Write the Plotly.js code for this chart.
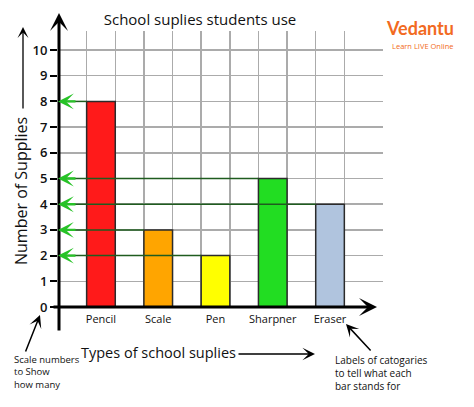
<!DOCTYPE html>
<html>
<head>
<meta charset="utf-8">
<script src="https://cdn.plot.ly/plotly-3.0.1.min.js"></script>
<style>
  html, body { margin: 0; padding: 0; background: #fff; }
  #chart { width: 474px; height: 407px; }
</style>
</head>
<body>
<div id="chart"></div>
<script>
// data
const categories = ['Pencil', 'Scale', 'Pen', 'Sharpner', 'Eraser'];
const counts = [8, 3, 2, 5, 4];
const barColors = ['#ff1a1a', '#ffa500', '#ffff00', '#22dd22', '#b0c4de'];
const yTickVals = [0, 1, 2, 3, 4, 5, 6, 7, 8, 9, 10];

const FONT = 'Open Sans, Noto Sans, sans-serif';

// plot box in pixels
const L = 58, R = 91, T = 31, B = 100;
const W = 474 - L - R, H = 407 - T - B;
const px = x => (x - L) / W;          // pixel -> paper x
const py = y => (407 - B - y) / H;    // pixel -> paper y

// each bar sits in every other grid cell
const barX = categories.map((c, i) => 1.5 + 2 * i);
const gridX = [];
for (let i = 1; i <= categories.length * 2; i++) gridX.push(i);

// dark green guide lines from the y axis to each bar top
const guides = counts.map((v, i) => ({
    type: 'scatter',
    mode: 'lines',
    x: [0, barX[i] - 0.5],
    y: [v, v],
    line: { color: '#1f5c1f', width: 1.5 },
    hoverinfo: 'skip',
    showlegend: false
}));

const bars = {
    type: 'bar',
    x: barX,
    y: counts,
    width: 1,
    marker: { color: barColors, line: { color: '#2b2b2b', width: 1.5 } },
    showlegend: false
};

// green arrows pointing at the scale value of each bar
const greenArrows = counts.map(v => ({
    x: 0, xref: 'x', y: v, yref: 'y',
    ax: 19, ay: 0, axref: 'pixel', ayref: 'pixel',
    text: '', showarrow: true,
    arrowhead: 3, arrowsize: 1.1, arrowwidth: 2.4, arrowcolor: '#27c227'
}));

function arrow(hx, hy, dx, dy, width, size, head) {
    return {
        x: px(hx), xref: 'paper', y: py(hy), yref: 'paper',
        ax: dx, ay: dy, text: '', showarrow: true,
        arrowhead: head, arrowsize: size, arrowwidth: width, arrowcolor: '#000'
    };
}

function label(text, x, y, size, opts) {
    return Object.assign({
        x: px(x), xref: 'paper', y: py(y), yref: 'paper',
        xanchor: 'center', yanchor: 'middle',
        text: text, showarrow: false,
        font: { family: FONT, size: size, color: '#111' }
    }, opts || {});
}

const annotations = [
    // axes drawn as arrows
    arrow(59, 13, 0, 319, 3, 1, 3),
    arrow(377, 307, -325, 0, 3, 1, 3),
    // axis title arrows
    arrow(23, 27, 0, 83, 1.3, 1.4, 3),
    arrow(315, 354, -78, 0, 1.5, 1.4, 3),
    // callout arrows
    arrow(40, 315, -15, 38, 1.5, 1.4, 3),
    arrow(346, 324, 26, 28, 1.5, 1.4, 3),
    // titles and notes
    label('Number of Supplies', 21, 191, 16, { textangle: -90 }),
    label('Types of school suplies', 158, 352, 14.5),
    label('Scale numbers<br>to Show<br>how many', 12, 351, 9.5,
        { xanchor: 'left', yanchor: 'top', align: 'left' }),
    label('Labels of catogaries<br>to tell what each<br>bar stands for', 333, 351, 10,
        { xanchor: 'left', yanchor: 'top', align: 'left' }),
    // logo
    label('Vedantu', 420, 28, 18,
        { font: { family: 'Lato, sans-serif', size: 18, color: '#f26a21', weight: 700 } }),
    label('Learn LIVE Online', 423, 45.5, 7.5,
        { font: { family: FONT, size: 7.5, color: '#f26a21' } })
].concat(greenArrows);

const layout = {
    width: 474,
    height: 407,
    margin: { l: L, r: R, t: T, b: B },
    paper_bgcolor: '#fff',
    plot_bgcolor: '#fff',
    font: { family: FONT, color: '#111' },
    title: {
        text: 'School suplies students use',
        xref: 'container', x: 200 / 474,
        yref: 'container', y: 1 - 20 / 407,
        xanchor: 'center', yanchor: 'middle',
        font: { family: FONT, size: 15, color: '#111' }
    },
    xaxis: {
        range: [0, 11.35],
        tickmode: 'array',
        tickvals: barX,
        ticktext: categories,
        ticks: '',
        ticklabelstandoff: 4,
        showgrid: false,
        zeroline: false,
        showline: false,
        tickfont: { family: FONT, size: 11, color: '#111' },
        minor: { tickmode: 'array', tickvals: gridX, showgrid: true, gridcolor: '#ababab', gridwidth: 1.5, ticks: '' }
    },
    yaxis: {
        range: [0, 10.74],
        tickmode: 'array',
        tickvals: yTickVals,
        ticks: 'outside',
        ticklen: 7,
        tickwidth: 2,
        tickcolor: '#000',
        showgrid: true,
        gridcolor: '#ababab',
        gridwidth: 1.5,
        zeroline: false,
        showline: false,
        tickfont: { family: FONT, size: 13, color: '#111', weight: 600 }
    },
    annotations: annotations,
    showlegend: false
};

Plotly.newPlot('chart', guides.concat([bars]), layout, { displayModeBar: false, staticPlot: true });
</script>
</body>
</html>
